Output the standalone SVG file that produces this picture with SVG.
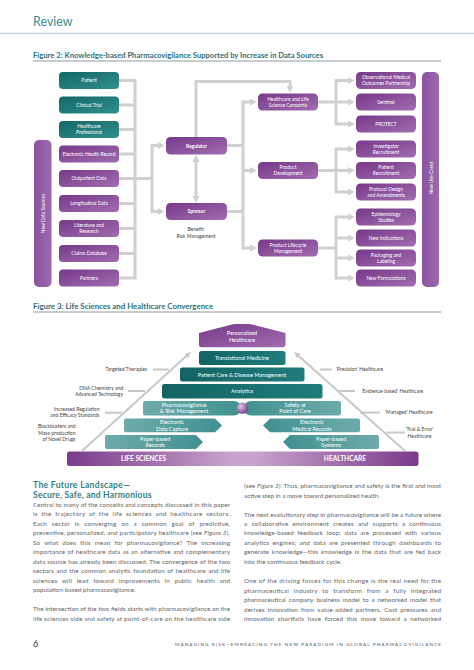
<svg xmlns="http://www.w3.org/2000/svg" width="474" height="670" viewBox="0 0 474 670">
<defs>
<linearGradient id="gP" x1="0" y1="0" x2="1" y2="1"><stop offset="0" stop-color="#773889"/><stop offset="1" stop-color="#a26db0"/></linearGradient>
<linearGradient id="gT" x1="0" y1="0" x2="1" y2="1"><stop offset="0" stop-color="#146767"/><stop offset="1" stop-color="#2f908d"/></linearGradient>
<linearGradient id="gBar" x1="0" y1="0" x2="1" y2="0"><stop offset="0" stop-color="#8b53a0"/><stop offset="1" stop-color="#9c68ad"/></linearGradient>
<linearGradient id="gTD" x1="0" y1="0" x2="1" y2="0"><stop offset="0" stop-color="#136364"/><stop offset="1" stop-color="#217c7b"/></linearGradient>
<linearGradient id="gTL" x1="0" y1="0" x2="1" y2="0"><stop offset="0" stop-color="#6eabab"/><stop offset="1" stop-color="#3f9190"/></linearGradient>
<linearGradient id="gTR" x1="0" y1="0" x2="1" y2="0"><stop offset="0" stop-color="#3f9190"/><stop offset="1" stop-color="#6eabab"/></linearGradient>
<linearGradient id="gBottom" x1="0" y1="0" x2="1" y2="0"><stop offset="0" stop-color="#7a3a8b"/><stop offset="0.47" stop-color="#c9a3cd"/><stop offset="0.53" stop-color="#c9a3cd"/><stop offset="1" stop-color="#7a3a8b"/></linearGradient>
<radialGradient id="gSphere" cx="0.35" cy="0.35" r="0.7"><stop offset="0" stop-color="#e3c9e8"/><stop offset="1" stop-color="#7a3a8b"/></radialGradient>
<marker id="ah" viewBox="0 0 10 10" refX="4" refY="5" markerWidth="2.4" markerHeight="2.4" orient="auto-start-reverse"><path d="M0,0 L10,5 L0,10 z" fill="#d0d0d0"/></marker>
<marker id="ah3" viewBox="0 0 10 10" refX="4" refY="5" markerWidth="3" markerHeight="3" orient="auto"><path d="M0,0 L10,5 L0,10 z" fill="#c8c8c8"/></marker>
</defs>
<style>
text{font-family:Lato,"Open Sans",sans-serif}
.p rect,.p path{fill:url(#gP)}
.t rect{fill:url(#gT)}
.bl{fill:#fff;font-size:4.9px;text-anchor:middle}
.con{fill:none;stroke:#d0d0d0;stroke-width:3}
.conA{fill:none;stroke:#d0d0d0;stroke-width:3;marker-end:url(#ah)}
.lbl{fill:#444;font-size:5px}
.lk{stroke:#c8c8c8;stroke-width:2;fill:none}
.wl{fill:#fff;font-size:5.5px;text-anchor:middle}
.body{fill:#666;font-size:6.3px}
.ttl{fill:#2e6f78;font-size:6.6px;font-weight:bold}
</style>
<rect width="474" height="670" fill="#fff"/>
<text x="33" y="26" fill="#3e8a90" font-size="12.5">Review</text>
<line x1="0" y1="33.3" x2="474" y2="33.3" stroke="#a9c9d3" stroke-width="1"/>
<text class="ttl" x="33" y="57.5" textLength="290" lengthAdjust="spacingAndGlyphs">Figure 2: Knowledge-based Pharmacovigilance Supported by Increase in Data Sources</text>
<line x1="33" y1="61" x2="441" y2="61" stroke="#b3bcbf" stroke-width="1.5"/>

<g id="connectors2">
<path class="con" d="M119,80.5H135M119,105H135M119,129.5H135M119,154H135M119,178.5H135M119,203.5H135M119,228.5H135M119,253.5H135M119,278H135M135,79V279.5M135,178.5H152M152,144V213M227,145.5H243M227,211.5H243M243,100.5V249.5M318,102H336M336,79V125.5M318,170.5H336M336,147.5V193.5M318,248H336M336,215.5V279.5"/>
<path class="conA" d="M152,145.5H160.5"/>
<path class="conA" d="M152,211.5H160.5"/>
<path class="conA" d="M196,159V198.5" marker-start="url(#ah)"/>
<path class="conA" d="M196,137V81.5H290V88.5"/>
<path class="conA" d="M243,102H252.5"/>
<path class="conA" d="M243,170.5H252.5"/>
<path class="conA" d="M243,248H252.5"/>
<path class="conA" d="M336,80.5H350.5"/>
<path class="conA" d="M336,102H350.5"/>
<path class="conA" d="M336,124H350.5"/>
<path class="conA" d="M336,149H350.5"/>
<path class="conA" d="M336,170.5H350.5"/>
<path class="conA" d="M336,192H350.5"/>
<path class="conA" d="M336,217H350.5"/>
<path class="conA" d="M336,238H350.5"/>
<path class="conA" d="M336,258H350.5"/>
<path class="conA" d="M336,278H350.5"/>
</g>

<g id="n-newdata"><rect x="34" y="140" width="17.5" height="147" rx="5" fill="url(#gBar)"/><text class="bl" transform="translate(44.5,213.5) rotate(-90)">New Data Sources</text></g>
<g id="n-newuse"><rect x="422" y="72" width="17" height="215" rx="5" fill="url(#gBar)"/><text class="bl" transform="translate(432.5,178) rotate(-90)">New Use Cases</text></g>

<g id="n-patient" class="t"><rect x="59" y="72" width="60" height="17" rx="4"/><text class="bl" x="89" y="82.3">Patient</text></g>
<g id="n-clinical" class="t"><rect x="59" y="96.5" width="60" height="17" rx="4"/><text class="bl" x="89" y="106.8">Clinical Trial</text></g>
<g id="n-hcp" class="t"><rect x="59" y="121" width="60" height="17" rx="4"/><text class="bl" x="89" y="128.2">Healthcare</text><text class="bl" x="89" y="134.4">Professional</text></g>
<g id="n-ehr" class="p"><rect x="59" y="145.5" width="60" height="17" rx="4"/><text class="bl" x="89" y="155.8">Electronic Health Record</text></g>
<g id="n-outpatient" class="p"><rect x="59" y="170" width="60" height="17" rx="4"/><text class="bl" x="89" y="180.3">Outpatient Data</text></g>
<g id="n-longitudinal" class="p"><rect x="59" y="195" width="60" height="17" rx="4"/><text class="bl" x="89" y="205.3">Longitudinal Data</text></g>
<g id="n-literature" class="p"><rect x="59" y="220" width="60" height="17" rx="4"/><text class="bl" x="89" y="227.2">Literature and</text><text class="bl" x="89" y="233.4">Research</text></g>
<g id="n-claims" class="p"><rect x="59" y="245" width="60" height="17" rx="4"/><text class="bl" x="89" y="255.3">Claims Database</text></g>
<g id="n-partners" class="p"><rect x="59" y="269.5" width="60" height="17" rx="4"/><text class="bl" x="89" y="279.8">Partners</text></g>

<g id="n-regulator" class="p"><rect x="166" y="137" width="61" height="17.5" rx="4.5"/><text class="bl" x="196.5" y="147.5" font-weight="bold">Regulator</text></g>
<g id="n-sponsor" class="p"><rect x="166" y="203" width="61" height="17" rx="4.5"/><text class="bl" x="196.5" y="213.3" font-weight="bold">Sponsor</text></g>
<g id="benefit"><text class="lbl" x="196" y="231" text-anchor="middle" font-size="4.9">Benefit:</text><text class="lbl" x="196" y="237.5" text-anchor="middle" font-size="4.9">Risk Management</text></g>

<g id="n-hlsc" class="p"><rect x="258" y="93.5" width="60" height="17" rx="4.5"/><text class="bl" x="288" y="100.7">Healthcare and Life</text><text class="bl" x="288" y="106.9">Science Consortia</text></g>
<g id="n-proddev" class="p"><rect x="258" y="162" width="60" height="17" rx="4.5"/><text class="bl" x="288" y="169.2">Product</text><text class="bl" x="288" y="175.4">Development</text></g>
<g id="n-plm" class="p"><rect x="258" y="239.5" width="60" height="17" rx="4.5"/><text class="bl" x="288" y="246.7">Product Lifecycle</text><text class="bl" x="288" y="252.9">Management</text></g>

<g id="n-omop" class="p"><rect x="356" y="72" width="60" height="17" rx="4.5"/><text class="bl" x="386" y="79.2">Observational Medical</text><text class="bl" x="386" y="85.4">Outcomes Partnership</text></g>
<g id="n-sentinel" class="p"><rect x="356" y="93.5" width="60" height="17" rx="4.5"/><text class="bl" x="386" y="103.8">Sentinel</text></g>
<g id="n-protect" class="p"><rect x="356" y="115.5" width="60" height="17" rx="4.5"/><text class="bl" x="386" y="125.8">PROTECT</text></g>
<g id="n-invrec" class="p"><rect x="356" y="140.5" width="60" height="17" rx="4.5"/><text class="bl" x="386" y="147.7">Investigator</text><text class="bl" x="386" y="153.9">Recruitment</text></g>
<g id="n-patrec" class="p"><rect x="356" y="162" width="60" height="17" rx="4.5"/><text class="bl" x="386" y="169.2">Patient</text><text class="bl" x="386" y="175.4">Recruitment</text></g>
<g id="n-protocol" class="p"><rect x="356" y="183.5" width="60" height="17" rx="4.5"/><text class="bl" x="386" y="190.7">Protocol Design</text><text class="bl" x="386" y="196.9">and Amendments</text></g>
<g id="n-epi" class="p"><rect x="356" y="208.5" width="60" height="17" rx="4.5"/><text class="bl" x="386" y="215.7">Epidemiology</text><text class="bl" x="386" y="221.9">Studies</text></g>
<g id="n-newind" class="p"><rect x="356" y="229.5" width="60" height="17" rx="4.5"/><text class="bl" x="386" y="239.8">New Indications</text></g>
<g id="n-pack" class="p"><rect x="356" y="249.5" width="60" height="17" rx="4.5"/><text class="bl" x="386" y="256.7">Packaging and</text><text class="bl" x="386" y="262.9">Labeling</text></g>
<g id="n-newform" class="p"><rect x="356" y="269.5" width="60" height="17" rx="4.5"/><text class="bl" x="386" y="279.8">New Formulations</text></g>

<text class="ttl" x="33" y="309" textLength="180" lengthAdjust="spacingAndGlyphs">Figure 3: Life Sciences and Healthcare Convergence</text>
<line x1="33" y1="312" x2="441" y2="312" stroke="#b3bcbf" stroke-width="1.5"/>

<g id="fig3-links">
<line class="lk" x1="82" y1="451" x2="188" y2="354.5" stroke-width="2.5" marker-end="url(#ah3)"/>
<line class="lk" x1="405" y1="451" x2="297" y2="354.5" stroke-width="2.5" marker-end="url(#ah3)"/>
<path class="lk" d="M153,369.5H169M128,391H145M105,412.7H121.5M320,369.5H332M338,391H355M360,412.5H380M387,432.5H405"/>
</g>

<g id="p-personal"><path d="M199,333 L234,324 L250,324 L285.5,333 L285.5,345 Q285.5,347.3 283,347.3 L201.5,347.3 Q199,347.3 199,345 Z" fill="url(#gP)"/><text class="wl" x="242" y="335">Personalized</text><text class="wl" x="242" y="342">Healthcare</text></g>
<g id="p-trans"><rect x="199" y="351" width="86.5" height="14" rx="2.5" fill="url(#gTD)"/><text class="wl" x="242" y="360">Translational Medicine</text></g>
<g id="p-care"><rect x="180" y="367.5" width="124.5" height="14" rx="2.5" fill="url(#gTD)"/><text class="wl" x="242" y="376.5">Patient Care &amp; Disease Management</text></g>
<g id="p-analytics"><rect x="162" y="384" width="160.5" height="14.5" rx="2.5" fill="url(#gTD)"/><text class="wl" x="242" y="393.2">Analytics</text></g>
<g id="p-pv"><path d="M145.5,401 H234 A7.2,7.2 0 0 1 234,415.5 H145.5 Q143,415.5 143,413 V403.5 Q143,401 145.5,401 Z" fill="url(#gTL)"/><text class="wl" x="184" y="406.5">Pharmacovigilance</text><text class="wl" x="184" y="413">&amp; Risk Management</text></g>
<g id="p-safety"><path d="M251,401 H338.5 Q341,401 341,403.5 V413 Q341,415.5 338.5,415.5 H251 A7.2,7.2 0 0 1 251,401 Z" fill="url(#gTR)"/><text class="wl" x="295" y="406.5">Safety at</text><text class="wl" x="295" y="413">Point of Care</text></g>
<g id="p-sphere"><circle cx="242.5" cy="408.2" r="5.6" fill="url(#gSphere)"/></g>
<g id="p-edc"><path d="M126,418.5 H215 L222,425.4 L215,432.3 H126 Q124,432.3 124,430.3 V420.5 Q124,418.5 126,418.5 Z" fill="url(#gTL)"/><text class="wl" x="172" y="424">Electronic</text><text class="wl" x="172" y="430.5">Data Capture</text></g>
<g id="p-paperrec"><path d="M107,435 H196 L203,442 L196,449 H107 Q105,449 105,447 V437 Q105,435 107,435 Z" fill="url(#gTL)"/><text class="wl" x="155" y="440.5">Paper-based</text><text class="wl" x="155" y="447">Records</text></g>
<g id="p-emr"><path d="M263,425.4 L270,418.5 H358 Q360,418.5 360,420.5 V430.3 Q360,432.3 358,432.3 H270 Z" fill="url(#gTR)"/><text class="wl" x="312" y="424">Electronic</text><text class="wl" x="312" y="430.5">Medical Records</text></g>
<g id="p-papersys"><path d="M283,442 L290,435 H377 Q379,435 379,437 V447 Q379,449 377,449 H290 Z" fill="url(#gTR)"/><text class="wl" x="331" y="440.5">Paper-based</text><text class="wl" x="331" y="447">Systems</text></g>
<g id="p-bottom"><rect x="67" y="451.5" width="351.5" height="14.5" rx="2.5" fill="url(#gBottom)"/><text x="143.5" y="461.3" fill="#fff" font-size="6.6" font-weight="bold" text-anchor="middle">LIFE SCIENCES</text><text x="345" y="461.3" fill="#fff" font-size="6.6" font-weight="bold" text-anchor="middle">HEALTHCARE</text></g>

<g id="fig3-labels">
<text class="lbl" x="147" y="371.3" text-anchor="end">Targeted Therapies</text>
<text class="lbl" x="123" y="389.5" text-anchor="end">DNA Chemistry and</text>
<text class="lbl" x="123" y="395.8" text-anchor="end">Advanced Technology</text>
<text class="lbl" x="99.5" y="411" text-anchor="end">Increased Regulation</text>
<text class="lbl" x="99.5" y="417.3" text-anchor="end">and Efficacy Standards</text>
<text class="lbl" x="75.5" y="428.3" text-anchor="end">Blockbusters and</text>
<text class="lbl" x="75.5" y="434.5" text-anchor="end">Mass-production</text>
<text class="lbl" x="75.5" y="440.7" text-anchor="end">of Novel Drugs</text>
<text class="lbl" x="336" y="371.3">‘Precision’ Healthcare</text>
<text class="lbl" x="361.5" y="392.5">‘Evidence-based’ Healthcare</text>
<text class="lbl" x="385" y="414">‘Managed’ Healthcare</text>
<text class="lbl" x="419.5" y="430.8" text-anchor="middle">‘Trial &amp; Error’</text>
<text class="lbl" x="419.5" y="438.3" text-anchor="middle">Healthcare</text>
</g>

<g id="article">
<text x="33" y="488.3" fill="#2f7f86" font-size="8.6" font-weight="bold" textLength="97" lengthAdjust="spacing">The Future Landscape—</text>
<text x="33" y="497.8" fill="#2f7f86" font-size="8.6" font-weight="bold" textLength="118.5" lengthAdjust="spacing">Secure, Safe, and Harmonious</text>
<text class="body" x="33" y="506.5" textLength="197" lengthAdjust="spacing">Central to many of the conceits and concepts discussed in this paper</text>
<text class="body" x="33" y="516" word-spacing="1.6" textLength="197" lengthAdjust="spacing">is the trajectory of the life sciences and healthcare sectors.</text>
<text class="body" x="33" y="525.5" word-spacing="3" textLength="197" lengthAdjust="spacing">Each sector is converging on a common goal of predictive,</text>
<text class="body" x="33" y="535" textLength="197" lengthAdjust="spacing">preventive, personalized, and participatory healthcare (see <tspan font-style="italic">Figure 3</tspan>).</text>
<text class="body" x="33" y="544.5" word-spacing="2.4" textLength="197" lengthAdjust="spacing">So what does this mean for pharmacovigilance? The increasing</text>
<text class="body" x="33" y="554" word-spacing="0.6" textLength="197" lengthAdjust="spacing">importance of healthcare data as an alternative and complementary</text>
<text class="body" x="33" y="563.5" word-spacing="0.3" textLength="197" lengthAdjust="spacing">data source has already been discussed. The convergence of the two</text>
<text class="body" x="33" y="573" word-spacing="0.6" textLength="197" lengthAdjust="spacing">sectors and the common analytic foundation of healthcare and life</text>
<text class="body" x="33" y="582.5" word-spacing="2.8" textLength="197" lengthAdjust="spacing">sciences will lead toward improvements in public health and</text>
<text class="body" x="33" y="592">population-based pharmacovigilance.</text>
<text class="body" x="33" y="611.3" textLength="197" lengthAdjust="spacing">The intersection of the two fields starts with pharmacovigilance on the</text>
<text class="body" x="33" y="620.8" textLength="197" lengthAdjust="spacing">life sciences side and safety at point-of-care on the healthcare side</text>
<text class="body" x="244" y="488" textLength="197" lengthAdjust="spacing">(see <tspan font-style="italic">Figure 3</tspan>). Thus, pharmacovigilance and safety is the first and most</text>
<text class="body" x="244" y="497.5">active step in a move toward personalized health.</text>
<text class="body" x="244" y="516.6" textLength="197" lengthAdjust="spacing">The next evolutionary step in pharmacovigilance will be a future where</text>
<text class="body" x="244" y="526" word-spacing="2.4" textLength="197" lengthAdjust="spacing">a collaborative environment creates and supports a continuous</text>
<text class="body" x="244" y="535.4" word-spacing="1.9" textLength="197" lengthAdjust="spacing">knowledge-based feedback loop; data are processed with various</text>
<text class="body" x="244" y="545" word-spacing="1.4" textLength="197" lengthAdjust="spacing">analytics engines; and data are presented through dashboards to</text>
<text class="body" x="244" y="554.4" word-spacing="1.2" textLength="197" lengthAdjust="spacing">generate knowledge—this knowledge is the data that are fed back</text>
<text class="body" x="244" y="564">into the continuous feedback cycle.</text>
<text class="body" x="244" y="583.3" word-spacing="0.2" textLength="197" lengthAdjust="spacing">One of the driving forces for this change is the real need for the</text>
<text class="body" x="244" y="592.7" word-spacing="2.8" textLength="197" lengthAdjust="spacing">pharmaceutical industry to transform from a fully integrated</text>
<text class="body" x="244" y="602.2" word-spacing="1.4" textLength="197" lengthAdjust="spacing">pharmaceutical company business model to a networked model that</text>
<text class="body" x="244" y="611.6" word-spacing="1.2" textLength="197" lengthAdjust="spacing">derives innovation from value-added partners. Cost pressures and</text>
<text class="body" x="244" y="621" word-spacing="1.8" textLength="197" lengthAdjust="spacing">innovation shortfalls have forced this move toward a networked</text>
<text x="33" y="647.3" fill="#333" font-size="9">6</text>
<text x="175" y="646" fill="#555" font-size="4.6" textLength="266" lengthAdjust="spacing">MANAGING RISK—EMBRACING THE NEW PARADIGM IN GLOBAL PHARMACOVIGILANCE</text>
</g>
</svg>
